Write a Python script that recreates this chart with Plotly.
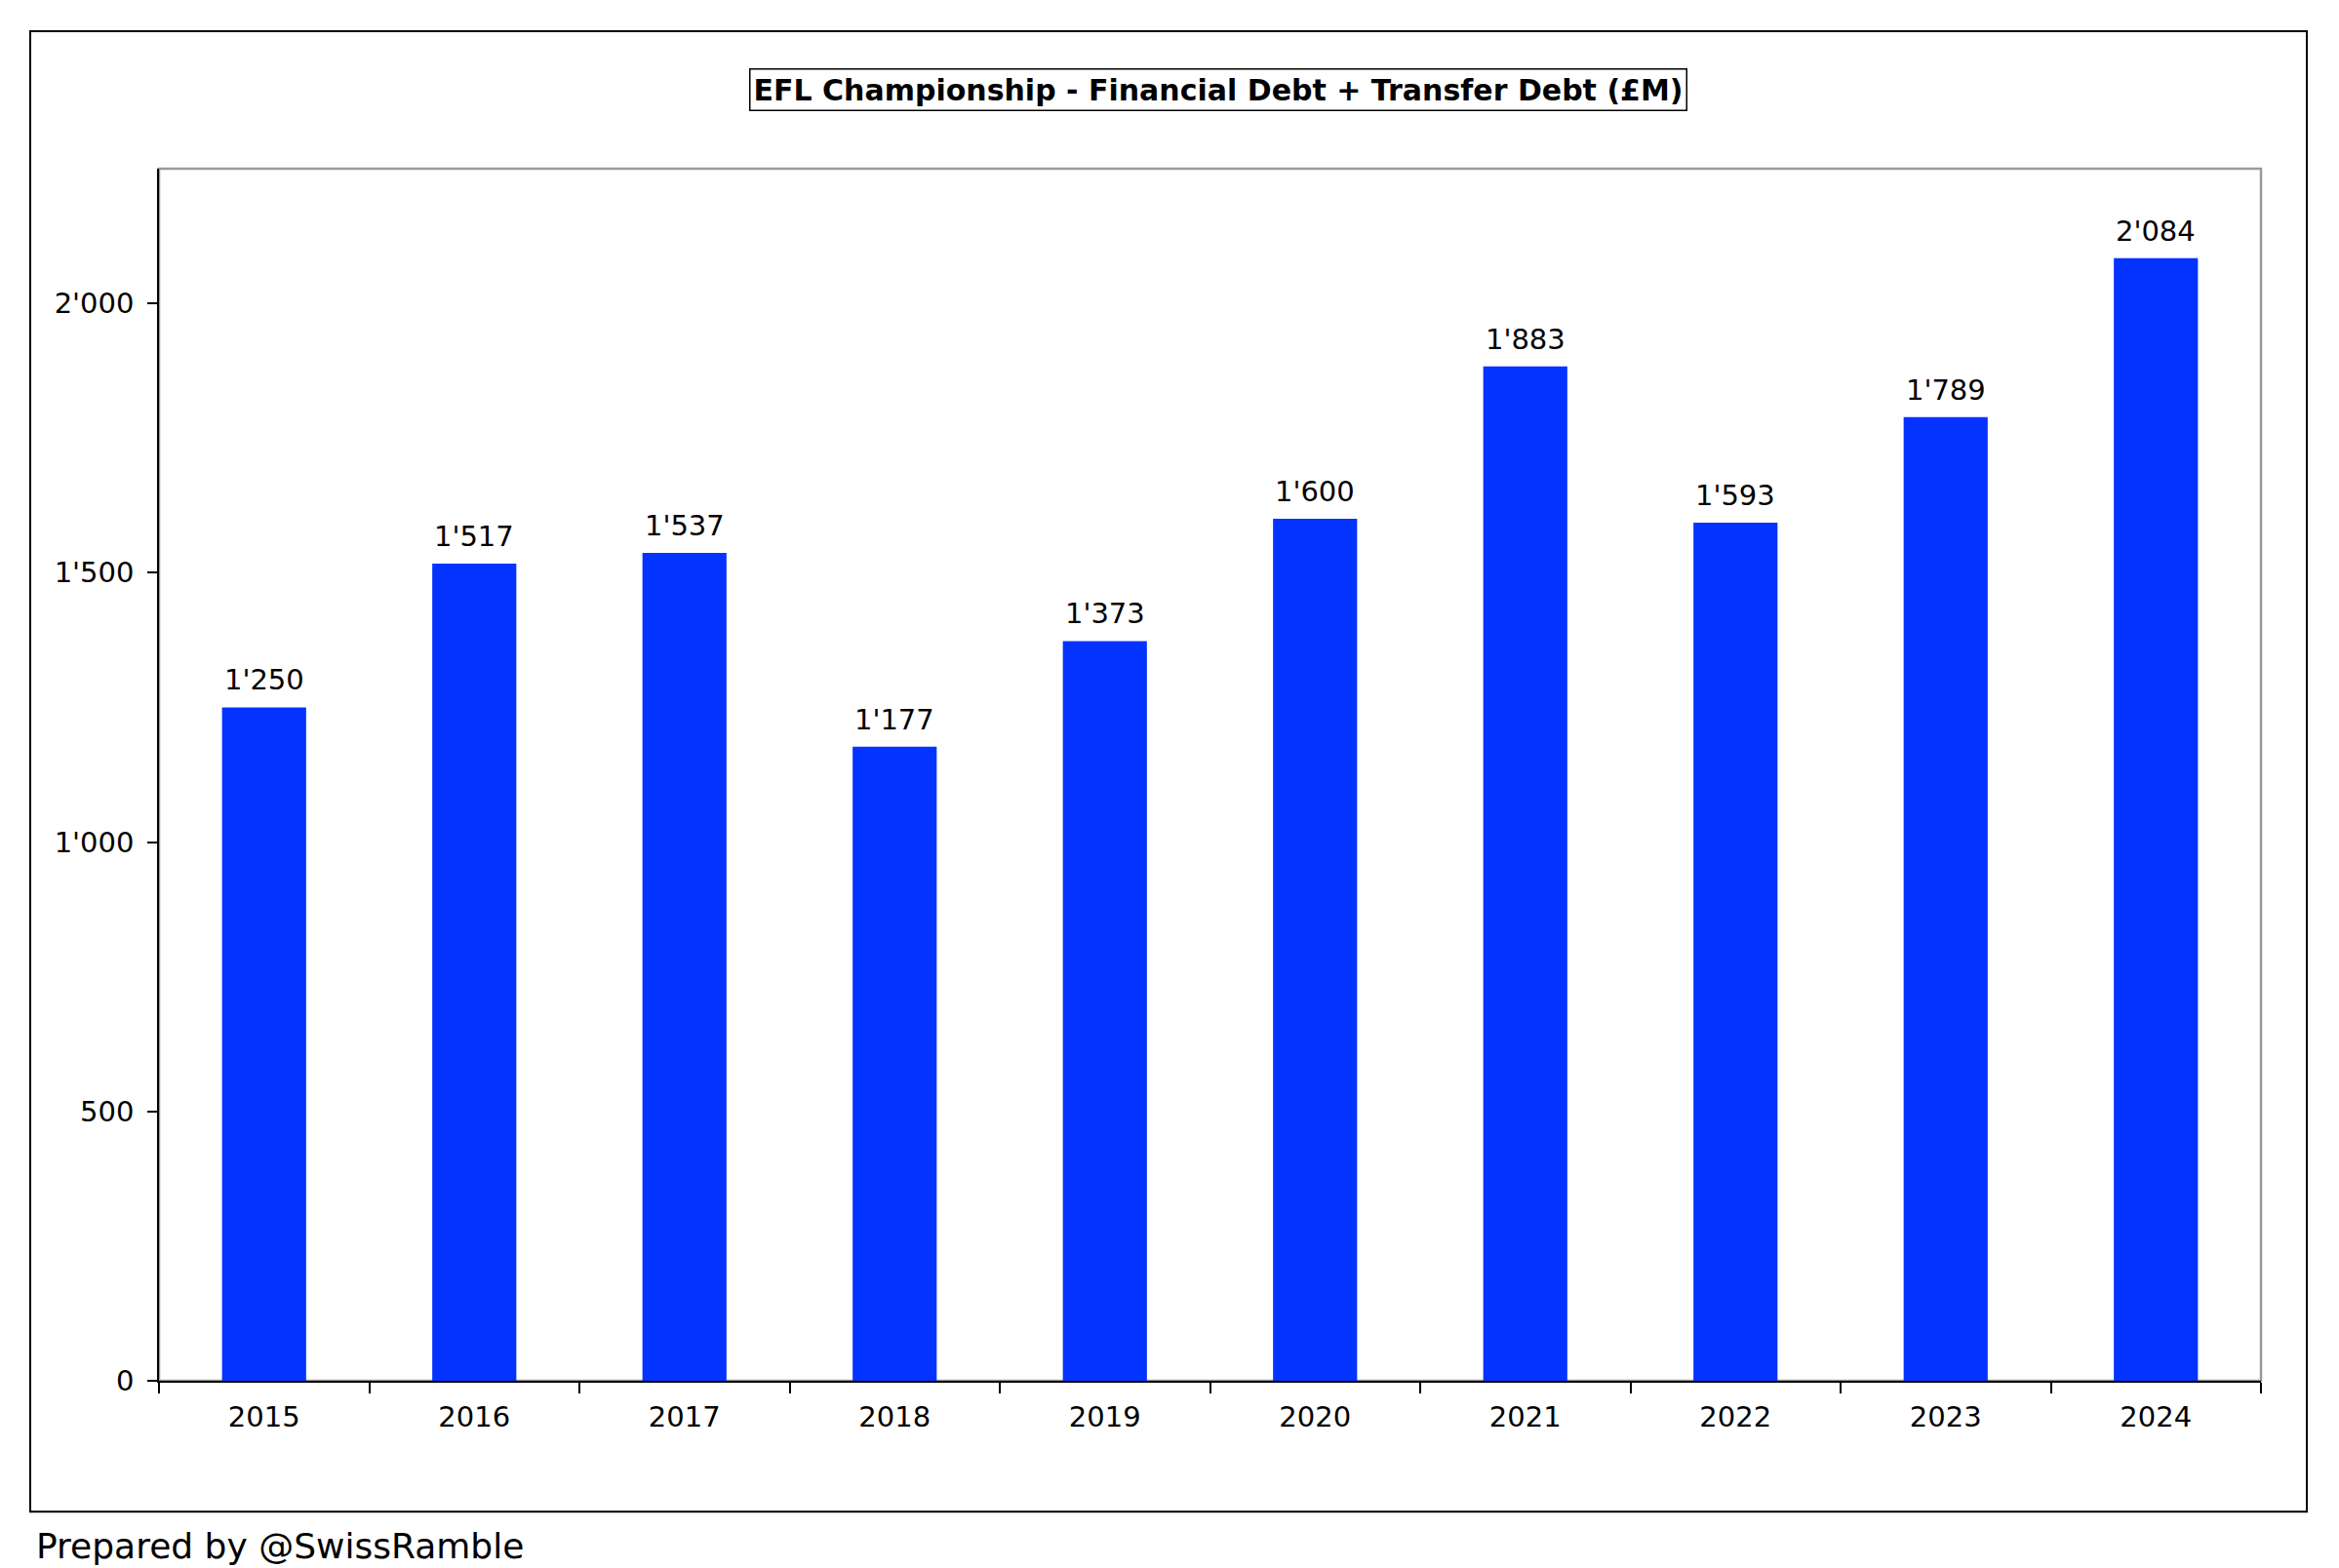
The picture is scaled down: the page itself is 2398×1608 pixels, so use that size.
import plotly.graph_objects as go

# EFL Championship debt, £M
years = ["2015", "2016", "2017", "2018", "2019", "2020", "2021", "2022", "2023", "2024"]
debt = [1250, 1517, 1537, 1177, 1373, 1600, 1883, 1593, 1789, 2084]

title_text = "EFL Championship - Financial Debt + Transfer Debt (£M)"
footer_text = "Prepared by @SwissRamble"

FONT = "Verdana, DejaVu Sans, sans-serif"
BLUE = "#0433FF"


def fmt(v):
    return f"{v:,}".replace(",", "'")


fig = go.Figure()

fig.add_trace(
    go.Bar(
        x=years,
        y=debt,
        width=0.4,
        marker=dict(color=BLUE, line=dict(width=0)),
        showlegend=False,
    )
)

# value labels above the bars (category index, since "2015" would be read as a position)
for i, v in enumerate(debt):
    fig.add_annotation(
        x=i,
        y=v,
        text=fmt(v),
        showarrow=False,
        yanchor="bottom",
        yshift=9,
        font=dict(family=FONT, size=29, color="black"),
    )

# title box
fig.add_annotation(
    xref="paper",
    yref="paper",
    x=0.5039,
    y=1.0652,
    text="<b>" + title_text + "</b>",
    showarrow=False,
    xanchor="center",
    yanchor="middle",
    bordercolor="black",
    borderwidth=1.5,
    borderpad=3,
    bgcolor="white",
    font=dict(family=FONT, size=30, color="black"),
)

fig.add_annotation(
    xref="paper",
    yref="paper",
    x=-0.0595,
    y=-0.136,
    text=footer_text,
    showarrow=False,
    xanchor="left",
    yanchor="middle",
    font=dict(family=FONT, size=36, color="black"),
)

# gray plot frame + outer black frame
fig.add_shape(
    type="rect", xref="paper", yref="paper",
    x0=0, x1=1, y0=0, y1=1,
    line=dict(color="#9A9A9A", width=2.5),
    layer="below",
)
fig.add_shape(
    type="rect", xref="paper", yref="paper",
    x0=-0.06125, x1=1.02181, y0=-0.1080, y1=1.1134,
    line=dict(color="black", width=2),
    layer="below",
)

# margins are 8px short on the left/top to offset the page's body margin
fig.update_layout(
    width=2398,
    height=1608,
    margin=dict(l=155, r=88, t=165, b=200),
    paper_bgcolor="white",
    plot_bgcolor="white",
    separators=".'",
    font=dict(family=FONT, size=29, color="black"),
    xaxis=dict(
        type="category",
        range=[-0.5, len(years) - 0.5],
        tickson="boundaries",
        ticks="outside",
        ticklen=11,
        tickwidth=1.5,
        tickcolor="black",
        tickangle=0,
        showline=True,
        linecolor="black",
        linewidth=1.5,
        showgrid=False,
        ticklabelstandoff=10,
        tickfont=dict(family=FONT, size=29, color="black"),
    ),
    yaxis=dict(
        range=[0, 2250],
        dtick=500,
        tick0=0,
        tickformat=",d",
        ticks="outside",
        ticklen=10,
        tickwidth=1.5,
        tickcolor="black",
        showline=True,
        linecolor="black",
        linewidth=1.5,
        showgrid=False,
        zeroline=False,
        ticklabelstandoff=8,
        tickfont=dict(family=FONT, size=29, color="black"),
    ),
)

fig.write_html("out.html")
